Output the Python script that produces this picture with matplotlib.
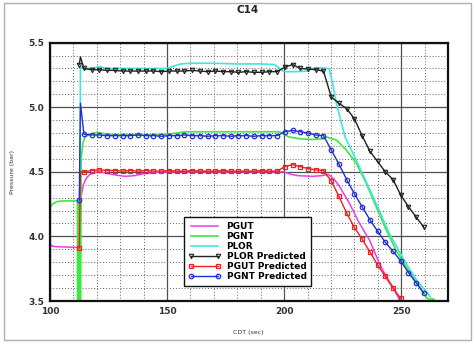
import numpy as np
import matplotlib
matplotlib.use("Agg")
import matplotlib.pyplot as plt
from matplotlib.patches import Rectangle
from matplotlib.ticker import MultipleLocator

# measured traces (time in s, pressure in bar)
t_pgut = [100, 101, 103, 112.3, 112.5, 113.2, 114.2, 115.5, 117, 119, 121, 124, 128, 132,
          136, 140, 145, 150, 160, 170, 180, 190, 200, 203, 206, 212, 216, 219, 221.5,
          223.7, 227.9, 232.2, 236.5, 240.7, 243.6, 246.4, 249.5]
p_pgut = [3.94, 3.925, 3.92, 3.915, 3.92, 4.30, 4.40, 4.45, 4.48, 4.495, 4.50, 4.49, 4.475,
          4.465, 4.47, 4.485, 4.495, 4.50, 4.50, 4.50, 4.50, 4.50, 4.50, 4.48, 4.47, 4.465,
          4.47, 4.48, 4.44, 4.385, 4.256, 4.10, 3.97, 3.79, 3.69, 3.61, 3.50]

t_pgnt = [100, 101, 103, 106, 111.7, 111.8, 112.1, 112.4, 112.7, 113.0, 113.3, 114, 115,
          117, 120, 125, 130, 140, 150, 158, 166, 180, 198, 202, 207, 212, 216, 218,
          222.3, 226.5, 230.8, 235.1, 239.3, 243.6, 247.8, 252.1, 257.8, 260.6, 261.5, 264.0]
p_pgnt = [4.22, 4.25, 4.27, 4.275, 4.275, 3.0, 4.27, 3.0, 4.27, 3.0, 4.60, 4.72, 4.77,
          4.79, 4.805, 4.79, 4.785, 4.785, 4.79, 4.81, 4.81, 4.81, 4.81, 4.77, 4.755,
          4.75, 4.755, 4.77, 4.746, 4.67, 4.566, 4.41, 4.23, 4.05, 3.895, 3.765, 3.61,
          3.533, 3.515, 3.515]

t_plor = [112.8, 113.0, 114, 116, 119, 121, 124, 130, 140, 150, 153, 156, 160, 170, 180,
          190, 196, 198, 200, 205, 210, 212, 215, 219.2, 221, 222.3, 224.2, 226, 230.8,
          237.9, 245.0, 252.1, 257, 261.3, 262.5]
p_plor = [4.25, 5.31, 5.30, 5.30, 5.305, 5.315, 5.30, 5.30, 5.30, 5.30, 5.32, 5.335, 5.34,
          5.34, 5.335, 5.335, 5.33, 5.30, 5.275, 5.275, 5.28, 5.30, 5.305, 5.30, 5.16,
          5.03, 4.90, 4.77, 4.59, 4.31, 4.02, 3.79, 3.65, 3.56, 3.53]

# model output, shared time base
t_pred = [112.5, 113.0, 114.5, 117.8, 121.1, 124.4, 127.7, 131.0, 134.3, 137.6, 140.9,
          144.2, 147.5, 150.8, 154.1, 157.4, 160.7, 164.0, 167.3, 170.6, 173.9, 177.2,
          180.5, 183.8, 187.1, 190.4, 193.7, 197.0, 200.3, 203.6, 206.9, 210.2, 213.5,
          216.8, 220.1, 223.4, 226.7, 230.0, 233.3, 236.6, 239.9, 243.2, 246.5, 249.8,
          253.1, 256.4, 259.7]
p_plor_pred = [5.33, 5.39, 5.30, 5.29, 5.29, 5.285, 5.285, 5.28, 5.28, 5.28, 5.28, 5.28,
               5.275, 5.28, 5.28, 5.28, 5.285, 5.28, 5.275, 5.28, 5.275, 5.275, 5.27,
               5.275, 5.27, 5.27, 5.275, 5.275, 5.31, 5.33, 5.30, 5.295, 5.29, 5.28,
               5.08, 5.03, 4.99, 4.91, 4.78, 4.66, 4.58, 4.50, 4.44, 4.32, 4.23, 4.15,
               4.07]
p_pgut_pred = [3.91, 4.50, 4.50, 4.51, 4.515, 4.51, 4.51, 4.505, 4.51, 4.505, 4.51, 4.505,
               4.505, 4.51, 4.505, 4.505, 4.51, 4.505, 4.505, 4.505, 4.51, 4.505, 4.505,
               4.505, 4.505, 4.51, 4.505, 4.505, 4.54, 4.555, 4.54, 4.525, 4.515, 4.51,
               4.43, 4.31, 4.18, 4.07, 3.98, 3.88, 3.78, 3.69, 3.60, 3.52, np.nan, np.nan,
               np.nan]
p_pgnt_pred = [4.28, 5.03, 4.79, 4.785, 4.785, 4.78, 4.78, 4.78, 4.78, 4.785, 4.78, 4.78,
               4.775, 4.78, 4.78, 4.785, 4.78, 4.78, 4.775, 4.78, 4.78, 4.775, 4.78, 4.78,
               4.775, 4.78, 4.78, 4.78, 4.81, 4.82, 4.81, 4.80, 4.785, 4.78, 4.67, 4.56,
               4.44, 4.33, 4.23, 4.13, 4.04, 3.955, 3.885, 3.81, 3.72, 3.64, 3.56]

fig = plt.figure(figsize=(4.74, 3.45), dpi=100)
fig.patches.append(Rectangle((0.0084, 0.0145), 0.985, 0.977, transform=fig.transFigure,
                             fill=False, edgecolor="#b0b0b0", lw=1.0))
ax = fig.add_axes([0.1055, 0.1275, 0.8397, 0.749])

ax.plot(t_pgut, p_pgut, color="#e83ee8", lw=1.1, label="PGUT")
ax.plot(t_pgnt, p_pgnt, color="#3fe83f", lw=1.2, label="PGNT")
ax.plot(t_plor, p_plor, color="#3fe6e0", lw=1.2, label="PLOR")

marks = [0] + list(range(2, len(t_pred)))
ax.plot(t_pred, p_plor_pred, color="#202020", lw=1.0, marker="v", ms=3.2, mfc="none",
        mec="#202020", mew=0.8, markevery=marks, label="PLOR Predicted")
ax.plot(t_pred, p_pgut_pred, color="#ee2020", lw=1.0, marker="s", ms=3.4, mfc="none",
        mec="#ee2020", mew=0.9, markevery=marks, label="PGUT Predicted")
ax.plot(t_pred, p_pgnt_pred, color="#2030d0", lw=1.0, marker="o", ms=3.2, mfc="none",
        mec="#2030d0", mew=0.9, markevery=marks, label="PGNT Predicted")

ax.set_xlim(100, 270)
ax.set_ylim(3.5, 5.5)
ax.xaxis.set_major_locator(MultipleLocator(50))
ax.xaxis.set_minor_locator(MultipleLocator(10))
ax.yaxis.set_major_locator(MultipleLocator(0.5))
ax.yaxis.set_minor_locator(MultipleLocator(0.1))
ax.grid(which="minor", color="#606060", linestyle=(0, (1, 2)), lw=0.7)
ax.grid(which="major", color="#505050", linestyle="-", lw=0.9)
ax.set_axisbelow(True)
ax.tick_params(which="both", length=0)
ax.tick_params(axis="both", labelsize=6.5, colors="#333333", pad=4)
for lbl in ax.get_xticklabels() + ax.get_yticklabels():
    lbl.set_fontweight("bold")
ax.set_yticks([3.5, 4.0, 4.5, 5.0, 5.5])
ax.set_yticklabels(["3.5", "4.0", "4.5", "5.0", "5.5"], fontweight="bold")
for s in ax.spines.values():
    s.set_linewidth(1.6)
    s.set_color("#111111")

leg = ax.legend(loc="lower left", bbox_to_anchor=(0.337, 0.059), fontsize=6.5,
                prop={"weight": "bold", "size": 6.5}, frameon=True, fancybox=False,
                edgecolor="#111111", framealpha=1, handlelength=3.6, labelspacing=0.12,
                handletextpad=0.6, borderpad=0.5, borderaxespad=0, numpoints=2)
leg.get_frame().set_linewidth(1.0)

fig.text(0.522, 0.971, "C14", ha="center", va="center", fontsize=7.5, fontweight="bold",
         color="#222222")
fig.text(0.523, 0.035, "CDT (sec)", ha="center", va="center", fontsize=4.5, color="#333333")
fig.text(0.026, 0.5, "Pressure (bar)", ha="center", va="center", rotation=90, fontsize=4.5,
         color="#333333")

fig.savefig("out.png", dpi=100)
